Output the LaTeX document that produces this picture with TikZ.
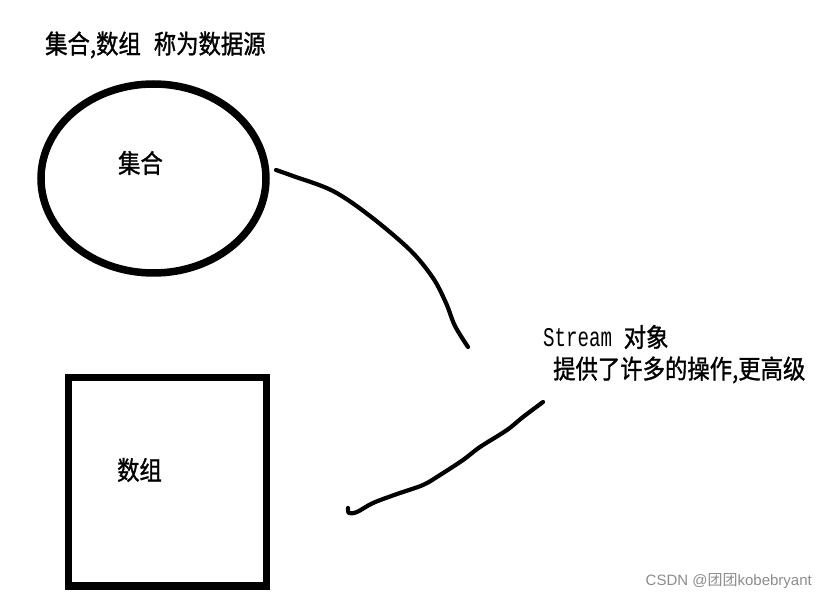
\documentclass[tikz,border=0pt]{standalone}
\usepackage{fontspec}
\newfontfamily\cjk{Noto Sans CJK SC}
\newfontfamily\cjkb{Noto Sans CJK SC}[FakeBold=1.2,FakeStretch=0.86]
\newfontfamily\monof{Liberation Mono}[FakeStretch=0.71]
\newfontfamily\sansf{Liberation Sans}
\usetikzlibrary{shapes.geometric}
\begin{document}
\begin{tikzpicture}[x=1pt,y=-1pt,
  lbl/.style={inner sep=0pt,font=\cjkb\fontsize{26}{28}\selectfont},
  thick line/.style={line width=7.5pt,black},
  stroke/.style={line width=4.2pt,black,line cap=round,line join=round}]
\useasboundingbox (0,0) rectangle (827,601);
\node[lbl,anchor=west] (title) at (45,45) {集合,数组\hspace{0.5em}称为数据源};
\node[ellipse,thick line,draw,minimum width=225pt,minimum height=189pt] (set) at (153.5,178.5) {};
\node[lbl] (setlbl) at (140.5,163) {集合};
\node[rectangle,thick line,draw,minimum width=198pt,minimum height=208.5pt] (arr) at (167.5,481.75) {};
\node[lbl] (arrlbl) at (139.5,470) {数组};
\node[inner sep=0pt,anchor=west] (stream) at (543,337) {{\monof\fontsize{27}{28}\selectfont Stream\ }{\cjkb\fontsize{26}{28}\selectfont 对象}};
\node[lbl,anchor=west] (ops) at (553,370) {提供了许多的操作,更高级};
\coordinate (c1s) at (276,170);
\coordinate (c1e) at (468,347);
\coordinate (c2s) at (543,402);
\coordinate (c2e) at (349,513);
\draw[stroke] plot[smooth,tension=0.55] coordinates {(c1s) (293,176) (333,191) (370,216) (410,250) (433,278) (446,303) (455,326) (c1e)};
\draw[stroke] plot[smooth,tension=0.55] coordinates {(c2s) (523,417) (507,430) (480,447) (463,460) (440,475) (423,485) (397,494) (373,503) (357,512) (c2e) (348,508)};
\node[inner sep=0pt,anchor=east,text=black!45,font=\sansf\fontsize{15}{17}\selectfont] (wm) at (812,581) {CSDN @{\cjk 团团}kobebryant};
\end{tikzpicture}
\end{document}
